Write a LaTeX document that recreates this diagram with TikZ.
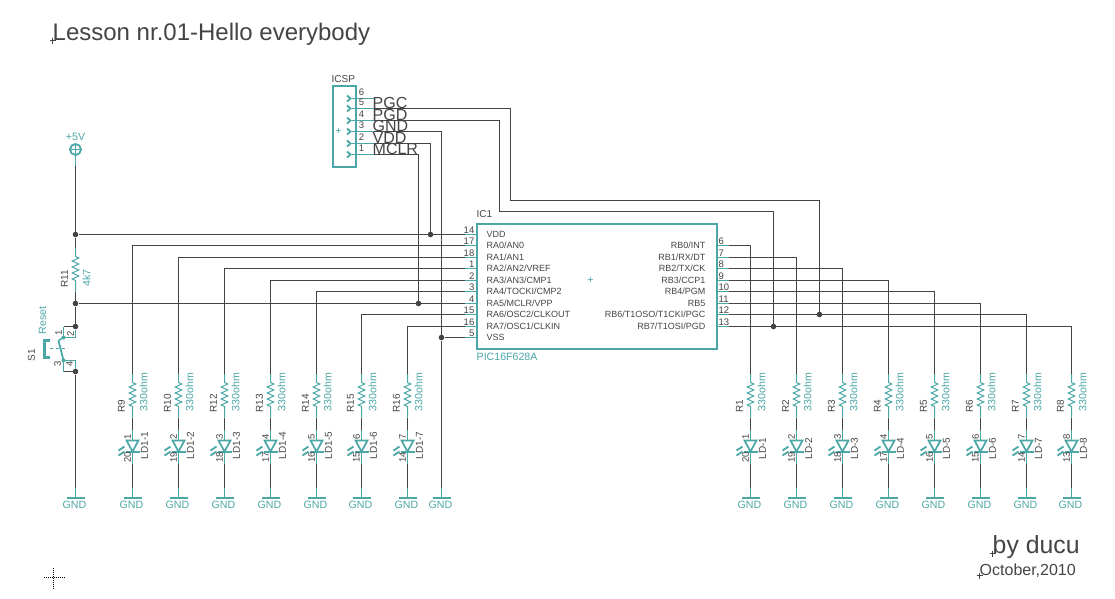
\documentclass[tikz,border=0pt]{standalone}
\usepackage{fontspec}
\usepackage{xcolor}
\setmainfont{Liberation Sans}
\usetikzlibrary{positioning, decorations.pathmorphing}

\definecolor{netteal}{RGB}{75,166,166}
\definecolor{netdark}{RGB}{68,68,68}

\tikzset{
    wire/.style={draw=netdark, line width=1pt},
    pin/.style={draw=netteal, line width=1pt},
    body/.style={draw=netteal, line width=2pt},
    junction/.style={circle, fill=netdark, inner sep=0pt, minimum size=5.6pt},
    resistor/.style={pin, decorate, decoration={zigzag, segment length=6pt, amplitude=3.2pt, pre length=9pt, post length=10pt}},
    label/.style={inner sep=0pt, text=netdark, font=\fontsize{10}{10}\selectfont},
    value/.style={inner sep=0pt, text=netteal, font=\fontsize{10.6}{10.6}\selectfont},
    pinnum/.style={inner sep=0pt, text=netdark, font=\fontsize{9.5}{9.5}\selectfont},
    icname/.style={inner sep=0pt, text=netdark, font=\fontsize{9}{9}\selectfont},
    icsptext/.style={inner sep=0pt, text=netdark, font=\fontsize{16}{16}\selectfont},
    origin/.style={draw=netdark, line width=1pt},
}

% resistor, led and ground below a wire: name, x, R name, led name, led pins
\newcommand{\ledbranch}[6]{
    \coordinate (#1in) at (#2,373);
    \draw[wire] (#2,417) -- (#2,429);
    \draw[wire] (#2,463) -- (#2,487);
    \draw[resistor] (#2,373) -- (#2,417);
    \draw[pin] (#2,429) -- (#2,440);
    \draw[pin] (#2,451) -- (#2,463);
    \draw[pin] (#2,487) -- (#2,497);
    \draw[body, line width=1.7pt, line join=miter] (#2-6,440) -- (#2+6,440) -- (#2,451) -- cycle;
    \draw[body] (#2-7,451) -- (#2+7,451);
    \draw[pin, line width=1.8pt] (#2-8,446) -- (#2-14,450);
    \draw[pin, line width=1.8pt] (#2-8,451) -- (#2-14,455);
    \draw[body] (#2-9,497) -- (#2+9,497);
    \node[label, rotate=90, anchor=west] (#1name) at (#2-11,412) {#3};
    \node[value, rotate=90, anchor=west] (#1val) at (#2+11,411) {330ohm};
    \node[label, rotate=90, anchor=west] (#1led) at (#2+12,459) {#4};
    \node[pinnum, rotate=90] (#1pa) at (#2-5,436) {#5};
    \node[pinnum, rotate=90, anchor=west] (#1pc) at (#2-5,462) {#6};
    \node[value] (#1gnd) at (#2-1,504) {GND};
}

% pin of the chip on its left side: name, y, number, text
\newcommand{\pinleft}[4]{
    \coordinate (#1) at (464,#2);
    \draw[pin] (476,#2) -- (#1);
    \node[pinnum, anchor=south east] (#1num) at (474,#2-1) {#3};
    \node[icname, anchor=west] (#1txt) at (486,#2) {#4};
}
% the same on the right side
\newcommand{\pinright}[4]{
    \coordinate (#1) at (728,#2);
    \draw[pin] (716,#2) -- (#1);
    \node[pinnum, anchor=south west] (#1num) at (718,#2-1) {#3};
    \node[icname, anchor=east] (#1txt) at (705,#2) {#4};
}
% pin of the ICSP header: name, y, number
\newcommand{\pinicsp}[3]{
    \coordinate (#1) at (373,#2);
    \draw[pin] (351,#2) -- (#1);
    \draw[pin, line width=1.8pt] (346.5,#2-3) -- (350,#2) -- (346.5,#2+3);
    \node[pinnum] (#1num) at (361,#2-6) {#3};
}

\begin{document}
\begin{tikzpicture}[x=1pt, y=-1pt]

    \useasboundingbox (0,0) rectangle (1115,598);

    \begin{scope}[shift={(0.5,0.5)}]

    % title and notes
    \node (title) [inner sep=0pt, anchor=base west, text=netdark, font=\fontsize{24}{24}\selectfont] at (52,40) {Lesson nr.01-Hello everybody};
    \node (author) [inner sep=0pt, anchor=base west, text=netdark, font=\fontsize{24.8}{24.8}\selectfont] at (992,553) {by ducu};
    \node (date) [inner sep=0pt, anchor=base west, text=netdark, font=\fontsize{16}{16}\selectfont] at (979,575) {October,2010};
    \draw[origin] (49,40) -- (55,40) (52,37) -- (52,43);
    \draw[origin] (989,553) -- (995,553) (992,550) -- (992,556);
    \draw[origin] (976,575) -- (982,575) (979,572) -- (979,578);
    \draw[draw=black, line width=1pt, dash pattern=on 1pt off 1pt] (43,577) -- (64,577) (53,567) -- (53,589);

    % ICSP header
    \draw[body] (332,85) rectangle (355,166);
    \node (icsp) [label, anchor=base west] at (331,82) {ICSP};
    \node (icspplus) [value] at (338,131) {+};
    \pinicsp{pgc}{98}{6}
    \pinicsp{pgd}{108}{5}
    \pinicsp{gnd}{120}{4}
    \pinicsp{vdd}{131}{3}
    \pinicsp{mclr}{143}{2}
    \pinicsp{last}{154}{1}
    \node (pgctxt) [icsptext, anchor=base west] at (372,108) {PGC};
    \node (pgdtxt) [icsptext, anchor=base west] at (372,120) {PGD};
    \node (gndtxt) [icsptext, anchor=base west] at (372,131) {GND};
    \node (vddtxt) [icsptext, anchor=base west] at (372,143) {VDD};
    \node (mclrtxt) [icsptext, anchor=base west] at (372,154) {MCLR};

    % the chip
    \draw[body] (476,223) rectangle (716,348);
    \node (ic) [label, anchor=base west] at (476,217) {IC1};
    \node (ictype) [value, anchor=base west] at (476,360) {PIC16F628A};
    \node (icplus) [value] at (590,280) {+};
    \pinleft{ra14}{234}{14}{VDD}
    \pinleft{ra17}{245}{17}{RA0/AN0}
    \pinleft{ra18}{257}{18}{RA1/AN1}
    \pinleft{ra1}{268}{1}{RA2/AN2/VREF}
    \pinleft{ra2}{280}{2}{RA3/AN3/CMP1}
    \pinleft{ra3}{291}{3}{RA4/TOCKI/CMP2}
    \pinleft{ra4}{303}{4}{RA5/MCLR/VPP}
    \pinleft{ra15}{314}{15}{RA6/OSC2/CLKOUT}
    \pinleft{ra16}{326}{16}{RA7/OSC1/CLKIN}
    \pinleft{ra5}{337}{5}{VSS}
    \pinright{rb6}{245}{6}{RB0/INT}
    \pinright{rb7}{257}{7}{RB1/RX/DT}
    \pinright{rb8}{268}{8}{RB2/TX/CK}
    \pinright{rb9}{280}{9}{RB3/CCP1}
    \pinright{rb10}{291}{10}{RB4/PGM}
    \pinright{rb11}{303}{11}{RB5}
    \pinright{rb12}{314}{12}{RB6/T1OSO/T1CKI/PGC}
    \pinright{rb13}{326}{13}{RB7/T1OSI/PGD}

    % led branches
    \ledbranch{ca}{132}{R9}{LD1-1}{1}{20}
    \ledbranch{cb}{178}{R10}{LD1-2}{2}{19}
    \ledbranch{cc}{224}{R12}{LD1-3}{3}{18}
    \ledbranch{cd}{270}{R13}{LD1-4}{4}{17}
    \ledbranch{ce}{316}{R14}{LD1-5}{5}{16}
    \ledbranch{cf}{361}{R15}{LD1-6}{6}{15}
    \ledbranch{cg}{407}{R16}{LD1-7}{7}{14}
    \ledbranch{da}{750}{R1}{LD-1}{1}{20}
    \ledbranch{db}{796}{R2}{LD-2}{2}{19}
    \ledbranch{dc}{842}{R3}{LD-3}{3}{18}
    \ledbranch{dd}{888}{R4}{LD-4}{4}{17}
    \ledbranch{de}{934}{R5}{LD-5}{5}{16}
    \ledbranch{df}{980}{R6}{LD-6}{6}{15}
    \ledbranch{dg}{1026}{R7}{LD-7}{7}{14}
    \ledbranch{dh}{1071}{R8}{LD-8}{8}{13}

    % supply, pull-up and switch
    \node (vcc) [circle, draw=netteal, line width=1.8pt, minimum size=11pt, inner sep=0pt] at (75,149) {};
    \draw[pin] (vcc.west) -- (vcc.east) (vcc.north) -- (vcc.south);
    \node (vcctxt) [value] at (75,136) {+5V};
    \coordinate (vccout) at (75,165);
    \draw[pin] (vcc.south) -- (vccout);
    \node (jvdd) [junction] at (75,234) {};
    \node (jrst) [junction] at (75,303) {};
    \node (jsw) [junction] at (75,326) {};
    \node (jswb) [junction] at (75,371) {};
    \coordinate (pullin) at (75,247);
    \coordinate (pullout) at (75,291);
    \coordinate (swa) at (63,326);
    \coordinate (swb) at (63,371);
    \coordinate (gndin) at (75,487);
    \draw[wire] (vccout) -- (jvdd);
    \draw[wire] (jvdd) -- (pullin);
    \draw[resistor] (pullin) -- (pullout);
    \draw[wire] (pullout) -- (jrst);
    \draw[wire] (jrst) -- (jsw);
    \draw[wire] (jsw) -- (swa);
    \draw[wire] (jswb) -- (swb);
    \draw[wire] (jswb) -- (gndin);
    \draw[pin] (swa) -- (63,337) -- (75,337) -- (jsw);
    \draw[pin] (swb) -- (63,360) -- (75,360) -- (jswb);
    \draw[pin, line width=1.8pt] (58,340) -- (63,360);
    \draw[pin, line width=1.5pt] (58,340) -- (63,337);
    \fill[netteal] (63,337) circle (2pt) (63,360) circle (2pt);
    \draw[pin, dashed] (49,348) -- (67,348);
    \draw[body, line width=2.4pt] (49,340) -- (44,340) -- (44,357) -- (49,357);
    \node (sname) [label, rotate=90] at (31,355) {S1};
    \node (sval) [value, rotate=90, anchor=west] at (42,334) {Reset};
    \node (snuma) [pinnum, rotate=90] at (58,332) {1};
    \node (snumb) [pinnum, rotate=90] at (70,333) {2};
    \node (snumc) [pinnum, rotate=90] at (57,363) {3};
    \node (snumd) [pinnum, rotate=90] at (69,363) {4};
    \node (rpname) [label, rotate=90, anchor=west] at (64,287) {R11};
    \node (rpval) [value, rotate=90, anchor=west] at (86,286) {4k7};
    \draw[pin] (gndin) -- (75,497);
    \draw[body] (66,497) -- (84,497);
    \node (swgnd) [value] at (74,504) {GND};

    % ground of the chip
    \node (jvss) [junction] at (441,337) {};
    \coordinate (vssin) at (441,487);
    \draw[wire] (jvss) -- (vssin);
    \draw[pin] (vssin) -- (441,497);
    \draw[body] (432,497) -- (450,497);
    \node (vssgnd) [value] at (440,504) {GND};

    % nets
    \node (jvdde) [junction] at (430,234) {};
    \node (jmclr) [junction] at (418,303) {};
    \node (jpgc) [junction] at (819,314) {};
    \node (jpgd) [junction] at (773,326) {};
    \coordinate (pgdbend) at (510,200);
    \coordinate (gndbend) at (499,211);

    \draw[wire] (ra14) -- (jvdd);
    \draw[wire] (ra4) -- (jrst);
    \draw[wire] (ra5) -- (jvss);
    \draw[wire] (ra17) -| (cain);
    \draw[wire] (ra18) -| (cbin);
    \draw[wire] (ra1) -| (ccin);
    \draw[wire] (ra2) -| (cdin);
    \draw[wire] (ra3) -| (cein);
    \draw[wire] (ra15) -| (cfin);
    \draw[wire] (ra16) -| (cgin);
    \draw[wire] (rb6) -| (dain);
    \draw[wire] (rb7) -| (dbin);
    \draw[wire] (rb8) -| (dcin);
    \draw[wire] (rb9) -| (ddin);
    \draw[wire] (rb10) -| (dein);
    \draw[wire] (rb11) -| (dfin);
    \draw[wire] (rb12) -| (dgin);
    \draw[wire] (rb13) -| (dhin);

    \draw[wire] (pgd) -| (pgdbend) -| (jpgc);
    \draw[wire] (gnd) -| (gndbend) -| (jpgd);
    \draw[wire] (vdd) -| (jvss);
    \draw[wire] (mclr) -| (jvdde);
    \draw[wire] (last) -| (jmclr);

    \end{scope}

\end{tikzpicture}
\end{document}
